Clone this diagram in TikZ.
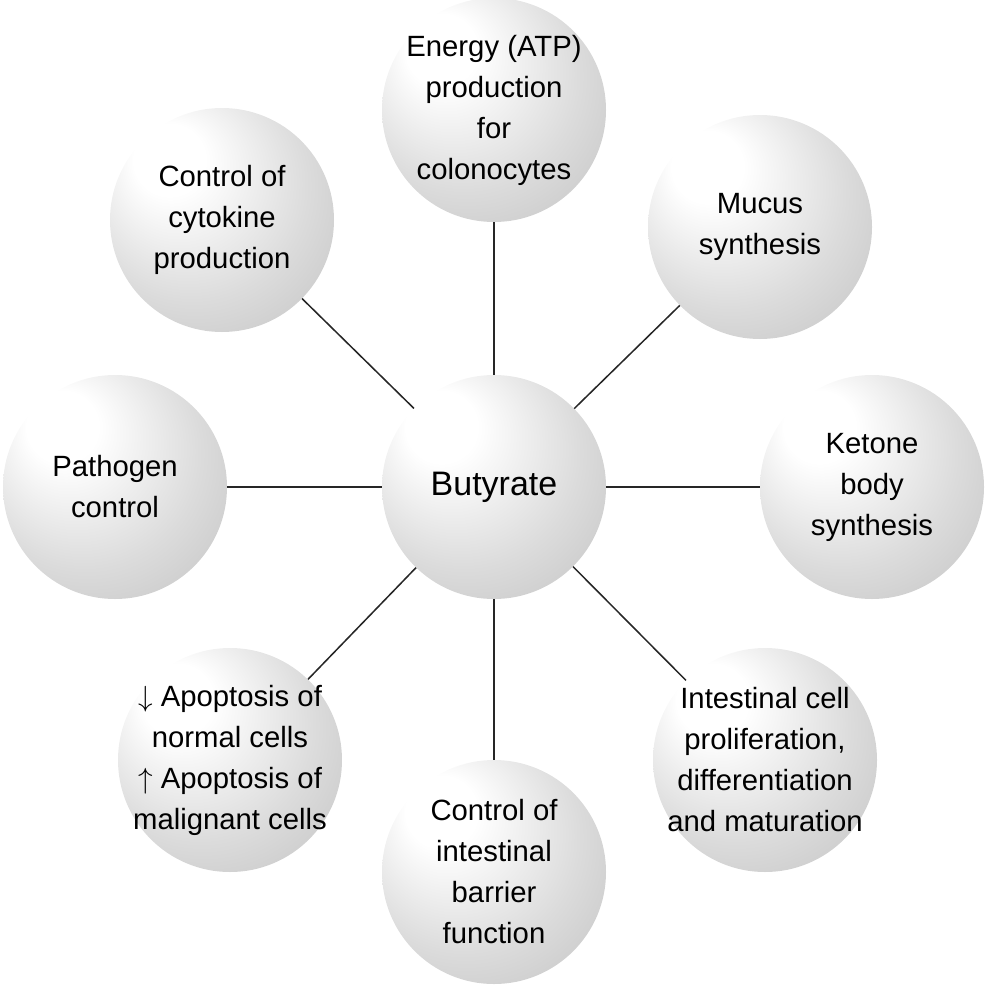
\documentclass[tikz,border=0pt]{standalone}
\usepackage{fontspec}
\setmainfont{Liberation Sans}
\pgfdeclareradialshading{bub}{\pgfpoint{-14bp}{16bp}}{color(0bp)=(white); color(8bp)=(white); color(26bp)=(gray!28); color(50bp)=(gray!60)}
\begin{document}
\begin{tikzpicture}[x=0.03cm,y=-0.03cm]
\tikzset{bub/.style={circle,minimum size=224*0.03cm,inner sep=0pt,shading=bub},
txt/.style={align=center,inner sep=0pt,font=\fontsize{25}{35}\selectfont},
link/.style={line width=1.3pt,black!85}}
\useasboundingbox (0,0) rectangle (988,984);
\foreach \n/\x/\y in {b/494/487,e/494/110,m/760/227,k/872/487,i/765/760,c/494/872,a/230/760,p/115/487,y/222/220}
  \node[bub] (\n) at (\x,\y) {};
\node[txt,font=\fontsize{29}{35}\selectfont] (bt) at (b) {Butyrate};
\node[txt] (et) at (e) {Energy (ATP)\\production\\for\\colonocytes};
\node[txt] (mt) at (m) {Mucus\\synthesis};
\node[txt] (kt) at (k) {Ketone\\body\\synthesis};
\node[txt] (it) at (i) {Intestinal cell\\proliferation,\\differentiation\\and maturation};
\node[txt] (ct) at (c) {Control of\\intestinal\\barrier\\function};
\node[txt] (at) at (a) {$\downarrow$ Apoptosis of\\normal cells\\$\uparrow$ Apoptosis of\\malignant cells};
\node[txt] (pt) at (p) {Pathogen\\control};
\node[txt] (yt) at (y) {Control of\\cytokine\\production};
\foreach \n in {e,m,k,i,c,a,p,y} \draw[link] (b) -- (\n);
\end{tikzpicture}
\end{document}
